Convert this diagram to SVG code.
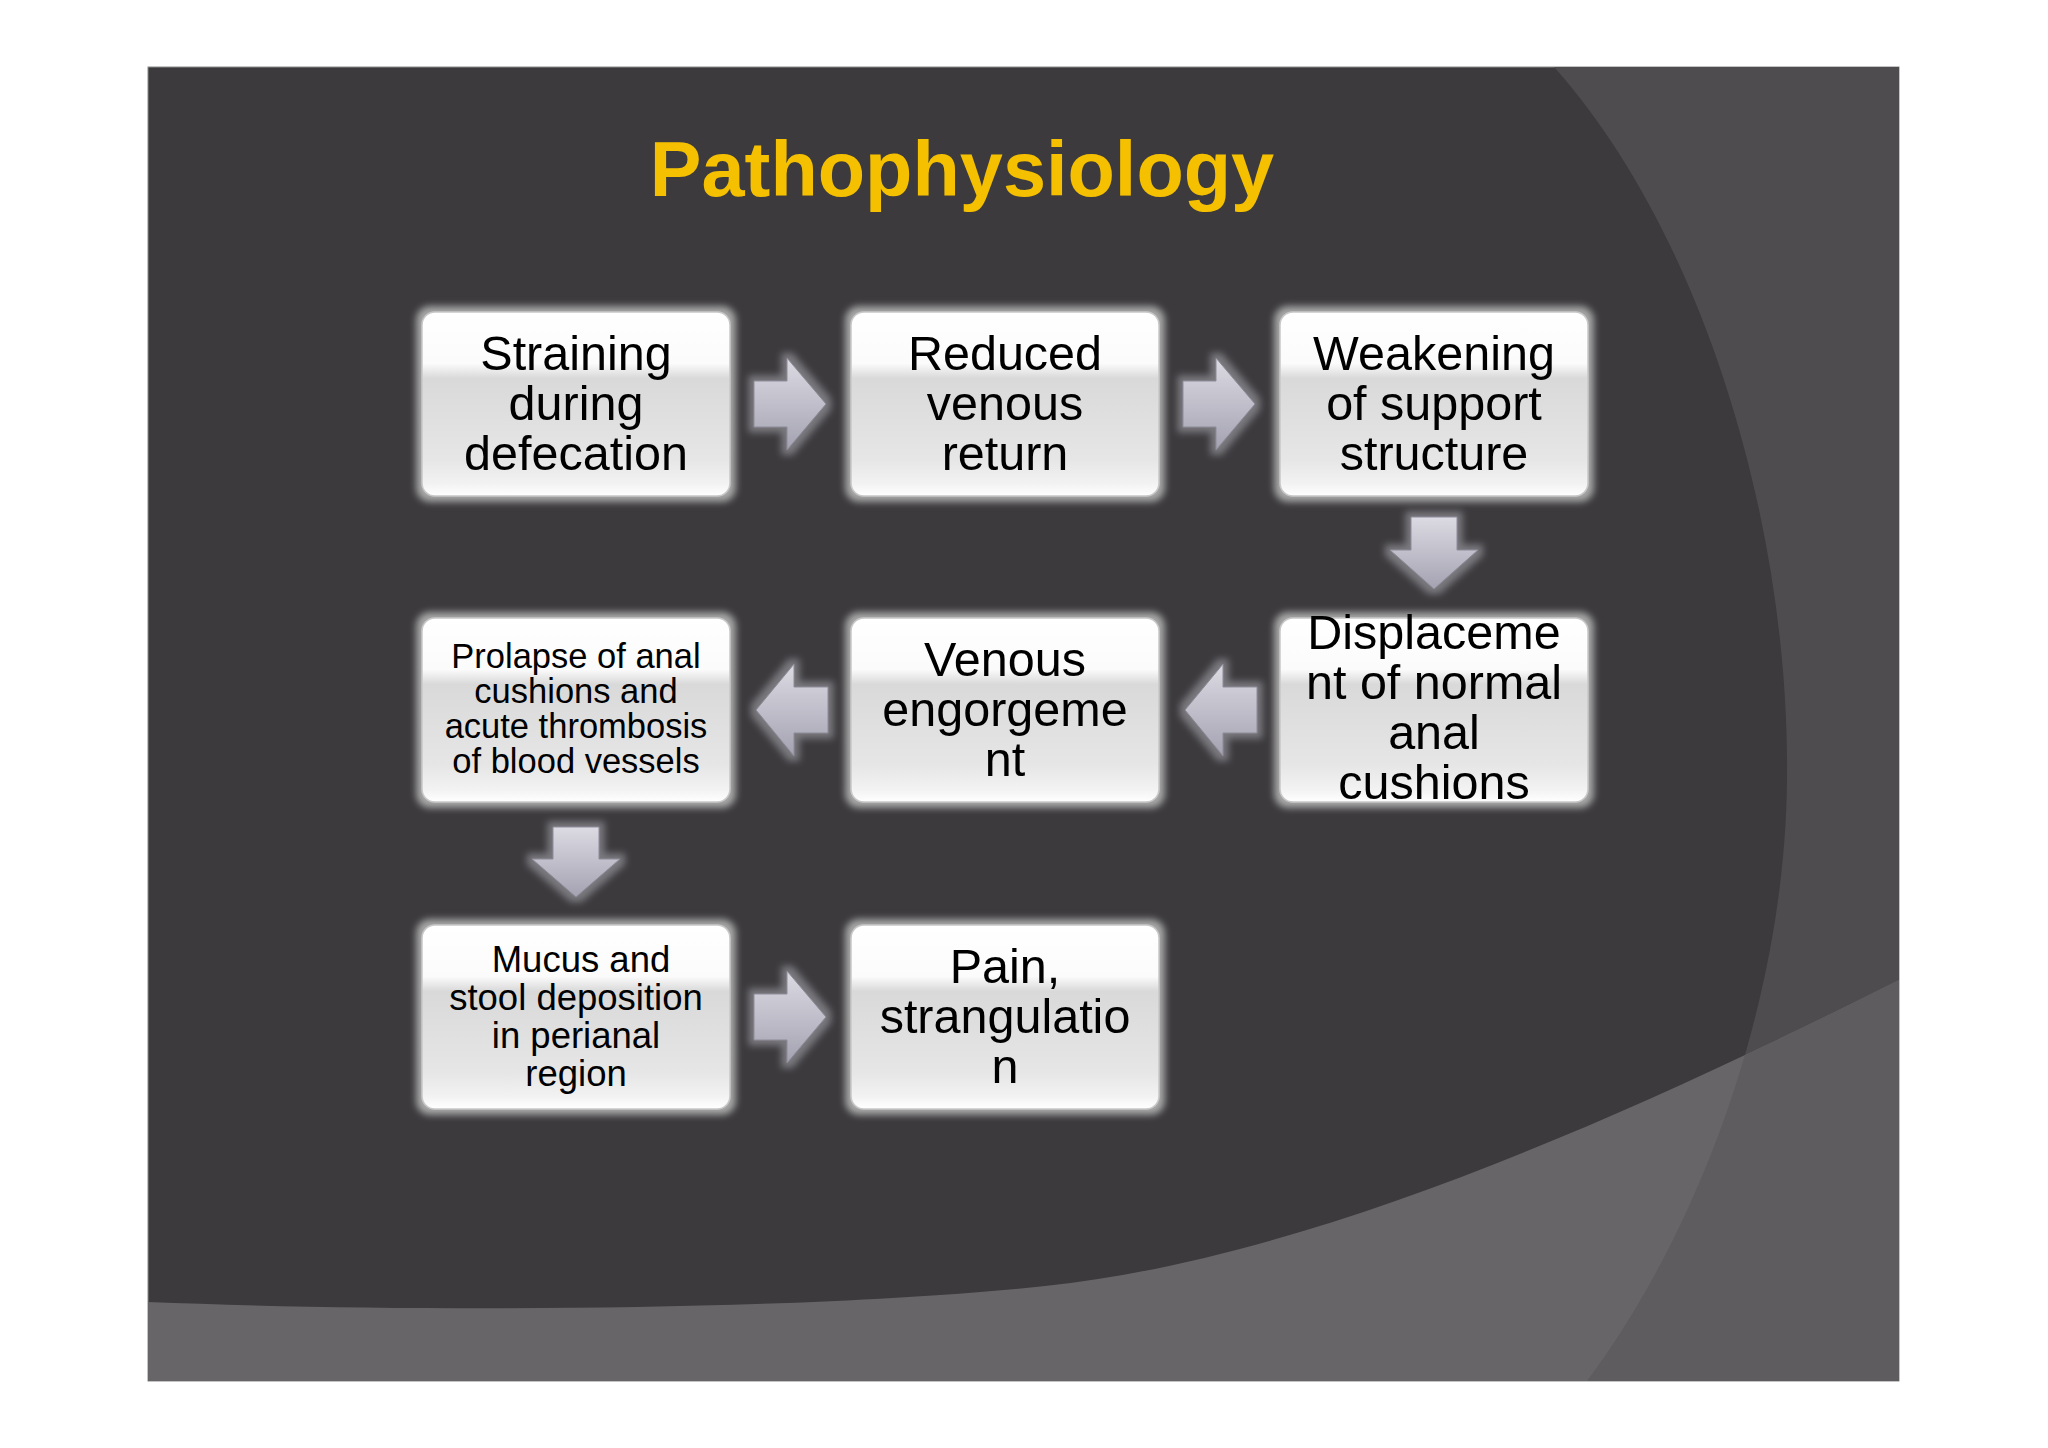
<svg xmlns="http://www.w3.org/2000/svg" width="2048" height="1448" viewBox="0 0 2048 1448">
<defs>
  <style>
    .t{font-family:"Liberation Sans",Arial,sans-serif;fill:#000;text-anchor:middle}
    .big{font-size:48.5px}
    .mid{font-size:36.5px}
    .small{font-size:34.5px}
    .box{fill:url(#boxg);stroke:#c8c8c8;stroke-width:1.5;filter:url(#glow)}
    .arr{fill:url(#arrg);stroke:#8d8b98;stroke-width:1;filter:url(#aglow)}
  </style>
  <linearGradient id="boxg" x1="0" y1="0" x2="0" y2="1">
    <stop offset="0" stop-color="#ffffff"/>
    <stop offset="0.28" stop-color="#fbfbfb"/>
    <stop offset="0.36" stop-color="#d9d9d9"/>
    <stop offset="0.8" stop-color="#e6e6e6"/>
    <stop offset="0.93" stop-color="#f2f2f2"/>
    <stop offset="1" stop-color="#ffffff"/>
  </linearGradient>
  <linearGradient id="arrg" x1="0" y1="0" x2="0" y2="1">
    <stop offset="0" stop-color="#dcdbe3"/>
    <stop offset="1" stop-color="#a4a2b1"/>
  </linearGradient>
  <filter id="glow" x="-10%" y="-15%" width="120%" height="130%">
    <feMorphology in="SourceAlpha" operator="dilate" radius="5" result="d"/>
    <feGaussianBlur in="d" stdDeviation="3.5" result="b"/>
    <feFlood flood-color="#a9a9a9"/>
    <feComposite in2="b" operator="in" result="g"/>
    <feMerge><feMergeNode in="g"/><feMergeNode in="SourceGraphic"/></feMerge>
  </filter>
  <filter id="aglow" x="-30%" y="-30%" width="160%" height="160%">
    <feMorphology in="SourceAlpha" operator="dilate" radius="5" result="d"/>
    <feGaussianBlur in="d" stdDeviation="3.5" result="b"/>
    <feFlood flood-color="#7a797e"/>
    <feComposite in2="b" operator="in" result="g"/>
    <feMerge><feMergeNode in="g"/><feMergeNode in="SourceGraphic"/></feMerge>
  </filter>
  <clipPath id="arcclip">
    <path d="M1554,67 C1700,230 1790,520 1787,780 C1785,1000 1700,1230 1587,1381 L1899,1381 L1899,67 Z"/>
  </clipPath>
</defs>

<rect width="2048" height="1448" fill="#ffffff"/>
<g id="background">
  <rect x="148" y="67" width="1751" height="1314" fill="#3c3a3d" stroke="#8a8a8a" stroke-width="1"/>
  <path d="M1554,67 C1700,230 1790,520 1787,780 C1785,1000 1700,1230 1587,1381 L1899,1381 L1899,67 Z" fill="#4e4c4f"/>
  <path d="M148,1302 C400,1312 800,1312 1045,1286 C1290,1260 1580,1140 1899,980 L1899,1381 L148,1381 Z" fill="#676568"/>
  <path d="M148,1302 C400,1312 800,1312 1045,1286 C1290,1260 1580,1140 1899,980 L1899,1381 L148,1381 Z" fill="#5e5c5f" clip-path="url(#arcclip)"/>
</g>

<text id="title" x="962" y="196" font-family="Liberation Sans, Arial, sans-serif" font-weight="bold" font-size="77.5" fill="#f5c000" text-anchor="middle">Pathophysiology</text>

<g id="connectors">
  <path class="arr" d="M754,381 H787 V358 L826,404 L787,450 V427 H754 Z"/>
  <path class="arr" d="M1183,381 H1216 V358 L1255,404 L1216,450 V427 H1183 Z"/>
  <path class="arr" d="M1411,517 H1457 V550 H1478 L1434,589 L1390,550 H1411 Z"/>
  <path class="arr" d="M1257,687 H1223 V664 L1185,710 L1223,756 V733 H1257 Z"/>
  <path class="arr" d="M828,687 H794 V664 L756,710 L794,756 V733 H828 Z"/>
  <path class="arr" d="M553,827 H599 V859 H620 L576,897 L532,859 H553 Z"/>
  <path class="arr" d="M754,994 H787 V971 L826,1017 L787,1063 V1040 H754 Z"/>
</g>

<g id="n1">
  <rect class="box" x="422" y="312" width="308" height="184" rx="13"/>
  <text class="t big" x="576"><tspan x="576" y="370">Straining</tspan><tspan x="576" y="420">during</tspan><tspan x="576" y="470">defecation</tspan></text>
</g>
<g id="n2">
  <rect class="box" x="851" y="312" width="308" height="184" rx="13"/>
  <text class="t big" x="1005"><tspan x="1005" y="370">Reduced</tspan><tspan x="1005" y="420">venous</tspan><tspan x="1005" y="470">return</tspan></text>
</g>
<g id="n3">
  <rect class="box" x="1280" y="312" width="308" height="184" rx="13"/>
  <text class="t big" x="1434"><tspan x="1434" y="370">Weakening</tspan><tspan x="1434" y="420">of support</tspan><tspan x="1434" y="470">structure</tspan></text>
</g>
<g id="n4">
  <rect class="box" x="1280" y="618" width="308" height="184" rx="13"/>
  <text class="t big" x="1434"><tspan x="1434" y="649">Displaceme</tspan><tspan x="1434" y="699">nt of normal</tspan><tspan x="1434" y="749">anal</tspan><tspan x="1434" y="799">cushions</tspan></text>
</g>
<g id="n5">
  <rect class="box" x="851" y="618" width="308" height="184" rx="13"/>
  <text class="t big" x="1005"><tspan x="1005" y="676">Venous</tspan><tspan x="1005" y="726">engorgeme</tspan><tspan x="1005" y="776">nt</tspan></text>
</g>
<g id="n6">
  <rect class="box" x="422" y="618" width="308" height="184" rx="13"/>
  <text class="t small" x="576"><tspan x="576" y="668">Prolapse of anal</tspan><tspan x="576" y="703">cushions and</tspan><tspan x="576" y="738">acute thrombosis</tspan><tspan x="576" y="773">of blood vessels</tspan></text>
</g>
<g id="n7">
  <rect class="box" x="422" y="925" width="308" height="184" rx="13"/>
  <text class="t mid" x="576"><tspan x="581" y="972">Mucus and</tspan><tspan x="576" y="1010">stool deposition</tspan><tspan x="576" y="1048">in perianal</tspan><tspan x="576" y="1086">region</tspan></text>
</g>
<g id="n8">
  <rect class="box" x="851" y="925" width="308" height="184" rx="13"/>
  <text class="t big" x="1005"><tspan x="1005" y="983">Pain,</tspan><tspan x="1005" y="1033">strangulatio</tspan><tspan x="1005" y="1083">n</tspan></text>
</g>
</svg>
